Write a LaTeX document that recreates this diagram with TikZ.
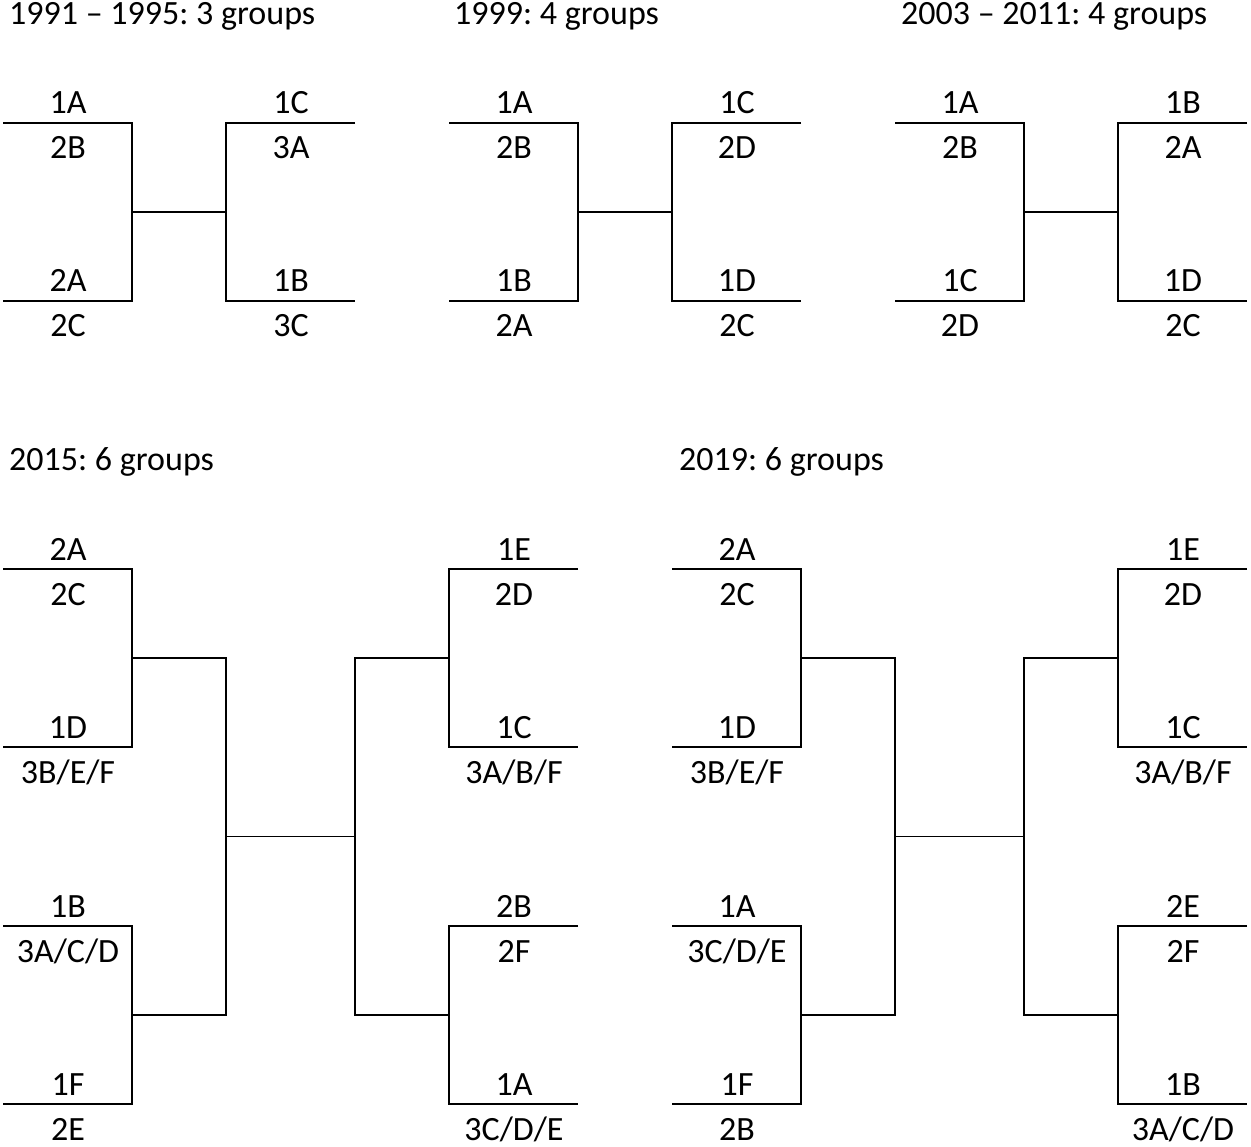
\documentclass[tikz,border=0pt]{standalone}
\usepackage{fontspec}
\setmainfont{Carlito}
\usetikzlibrary{positioning}
\frenchspacing
\tikzset{
    seed/.style={
           anchor=base,
           inner sep=0pt,
           font=\fontsize{34}{40}\selectfont,
           },
    title/.style={
           anchor=base west,
           inner sep=0pt,
           font=\fontsize{34}{40}\selectfont,
           },
    bracket/.style={
           draw=black,
           line width=1.7pt,
           },
}
% one pair of games: #1 name, #2 left x, #3 y of top line, #4-#7 seeds
\newcommand{\seedpair}[7]{%
    \coordinate (#1-tl) at (#2,#3);
    \coordinate (#1-tr) at (#2+129,#3);
    \coordinate (#1-bl) at (#2,#3+178);
    \coordinate (#1-br) at (#2+129,#3+178);
    \coordinate (#1-ml) at (#2,#3+89);
    \coordinate (#1-mr) at (#2+129,#3+89);
    \node[seed] (#1-a) at (#2+65,#3-9)   {#4};
    \node[seed] (#1-b) at (#2+65,#3+36)  {#5};
    \node[seed] (#1-c) at (#2+65,#3+169) {#6};
    \node[seed] (#1-d) at (#2+65,#3+214) {#7};
}

\begin{document}
\begin{tikzpicture}[x=1pt,y=-1pt]
      \useasboundingbox (0,0) rectangle (1251,1147);

      % TITLES
      \node[title] (T1991) at (9,25)   {1991 – 1995: 3 groups};
      \node[title] (T1999) at (454,25) {1999: 4 groups};
      \node[title] (T2003) at (901,25) {2003 – 2011: 4 groups};
      \node[title] (T2015) at (9,471)  {2015: 6 groups};
      \node[title] (T2019) at (679,471) {2019: 6 groups};

      % 1991 - 1995
      \seedpair{A91}{3}{123}{1A}{2B}{2A}{2C}
      \seedpair{B91}{226}{123}{1C}{3A}{1B}{3C}
      \draw[bracket] (A91-tl) -- (A91-tr) -- (A91-br) -- (A91-bl);
      \draw[bracket] (B91-tr) -- (B91-tl) -- (B91-bl) -- (B91-br);
      \draw[bracket] (A91-mr) -- (B91-ml);

      % 1999
      \seedpair{A99}{449}{123}{1A}{2B}{1B}{2A}
      \seedpair{B99}{672}{123}{1C}{2D}{1D}{2C}
      \draw[bracket] (A99-tl) -- (A99-tr) -- (A99-br) -- (A99-bl);
      \draw[bracket] (B99-tr) -- (B99-tl) -- (B99-bl) -- (B99-br);
      \draw[bracket] (A99-mr) -- (B99-ml);

      % 2003 - 2011
      \seedpair{A03}{895}{123}{1A}{2B}{1C}{2D}
      \seedpair{B03}{1118}{123}{1B}{2A}{1D}{2C}
      \draw[bracket] (A03-tl) -- (A03-tr) -- (A03-br) -- (A03-bl);
      \draw[bracket] (B03-tr) -- (B03-tl) -- (B03-bl) -- (B03-br);
      \draw[bracket] (A03-mr) -- (B03-ml);

      % 2015
      \seedpair{A15}{3}{569}{2A}{2C}{1D}{3B/E/F}
      \seedpair{B15}{3}{926}{1B}{3A/C/D}{1F}{2E}
      \seedpair{C15}{449}{569}{1E}{2D}{1C}{3A/B/F}
      \seedpair{D15}{449}{926}{2B}{2F}{1A}{3C/D/E}
      \coordinate (L15) at (226,836.5);
      \coordinate (R15) at (355,836.5);
      \draw[bracket] (A15-tl) -- (A15-tr) -- (A15-br) -- (A15-bl);
      \draw[bracket] (B15-tl) -- (B15-tr) -- (B15-br) -- (B15-bl);
      \draw[bracket] (C15-tr) -- (C15-tl) -- (C15-bl) -- (C15-br);
      \draw[bracket] (D15-tr) -- (D15-tl) -- (D15-bl) -- (D15-br);
      \draw[bracket] (A15-mr) -| (L15) |- (B15-mr);
      \draw[bracket] (C15-ml) -| (R15) |- (D15-ml);
      \draw[bracket] (L15) -- (R15);

      % 2019
      \seedpair{A19}{672}{569}{2A}{2C}{1D}{3B/E/F}
      \seedpair{B19}{672}{926}{1A}{3C/D/E}{1F}{2B}
      \seedpair{C19}{1118}{569}{1E}{2D}{1C}{3A/B/F}
      \seedpair{D19}{1118}{926}{2E}{2F}{1B}{3A/C/D}
      \coordinate (L19) at (895,836.5);
      \coordinate (R19) at (1024,836.5);
      \draw[bracket] (A19-tl) -- (A19-tr) -- (A19-br) -- (A19-bl);
      \draw[bracket] (B19-tl) -- (B19-tr) -- (B19-br) -- (B19-bl);
      \draw[bracket] (C19-tr) -- (C19-tl) -- (C19-bl) -- (C19-br);
      \draw[bracket] (D19-tr) -- (D19-tl) -- (D19-bl) -- (D19-br);
      \draw[bracket] (A19-mr) -| (L19) |- (B19-mr);
      \draw[bracket] (C19-ml) -| (R19) |- (D19-ml);
      \draw[bracket] (L19) -- (R19);
\end{tikzpicture}
\end{document}
